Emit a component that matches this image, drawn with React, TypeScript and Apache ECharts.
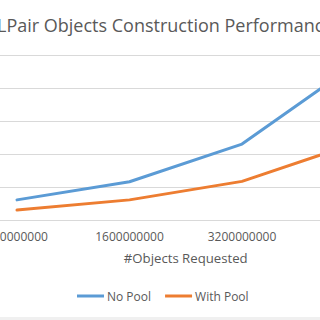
import React, { useEffect, useRef } from "react";
import * as echarts from "echarts";

const categories = ["800000000", "1600000000", "3200000000", "6400000000"];
const noPool = [6.1, 11.6, 23.0, 47.0];
const withPool = [3.0, 6.1, 11.7, 23.2];
const seriesNames = ["No Pool", "With Pool"];
const titleText = "LPair Objects Construction Performance";
const xAxisName = "#Objects Requested";

const FONT = "'Open Sans', sans-serif";
const SHIFT = 60;

export default function App() {
  const ref = useRef<HTMLDivElement>(null);
  useEffect(() => {
    if (!ref.current) return;
    const chart = echarts.init(ref.current, null, { renderer: "svg" });
    chart.setOption({
      animation: false,
      backgroundColor: "#ffffff",
      textStyle: { fontFamily: FONT },
      title: {
        text: titleText,
        left: SHIFT - 3,
        top: 15.5,
        padding: 0,
        textStyle: { fontFamily: FONT, fontSize: 18, fontWeight: "normal", color: "#595959" },
      },
      legend: {
        data: seriesNames,
        left: SHIFT + 77,
        top: 290,
        itemWidth: 27,
        itemHeight: 3,
        itemGap: 14,
        icon: "rect",
        padding: 0,
        textStyle: { fontFamily: FONT, fontSize: 12, color: "#595959", padding: [0, 0, 0, -2] },
      },
      grid: { left: SHIFT - 39.25, top: 55, width: 450, height: 165 },
      xAxis: {
        type: "category",
        data: categories,
        boundaryGap: true,
        axisLine: { lineStyle: { color: "#d9d9d9", width: 1 } },
        axisTick: { show: false },
        axisLabel: { fontFamily: FONT, fontSize: 12, color: "#595959", margin: 10, interval: 0 },
        name: xAxisName,
        nameLocation: "middle",
        nameGap: 31,
        nameTextStyle: { fontFamily: FONT, fontSize: 13.2, color: "#595959" },
      },
      yAxis: {
        type: "value",
        min: 0,
        max: 50,
        interval: 10,
        axisLine: { show: false },
        axisTick: { show: false },
        axisLabel: { show: false },
        splitLine: { lineStyle: { color: "#d9d9d9", width: 1 } },
      },
      graphic: [
        { type: "rect", shape: { x: 0, y: 317, width: 480, height: 3 }, style: { fill: "#f0f0f0" }, z: 100 },
      ],
      series: [
        {
          name: seriesNames[0],
          type: "line",
          data: noPool,
          symbol: "none",
          itemStyle: { color: "#5b9bd5" },
          lineStyle: { color: "#5b9bd5", width: 3, cap: "round", join: "round" },
        },
        {
          name: seriesNames[1],
          type: "line",
          data: withPool,
          symbol: "none",
          itemStyle: { color: "#ed7d31" },
          lineStyle: { color: "#ed7d31", width: 3, cap: "round", join: "round" },
        },
      ],
    });
    return () => chart.dispose();
  }, []);
  return (
    <div style={{ position: "fixed", left: 0, top: 0, width: 320, height: 320, overflow: "hidden", background: "#fff" }}>
      <div ref={ref} style={{ position: "absolute", left: -SHIFT, top: 0, width: 480, height: 320 }} />
    </div>
  );
}
